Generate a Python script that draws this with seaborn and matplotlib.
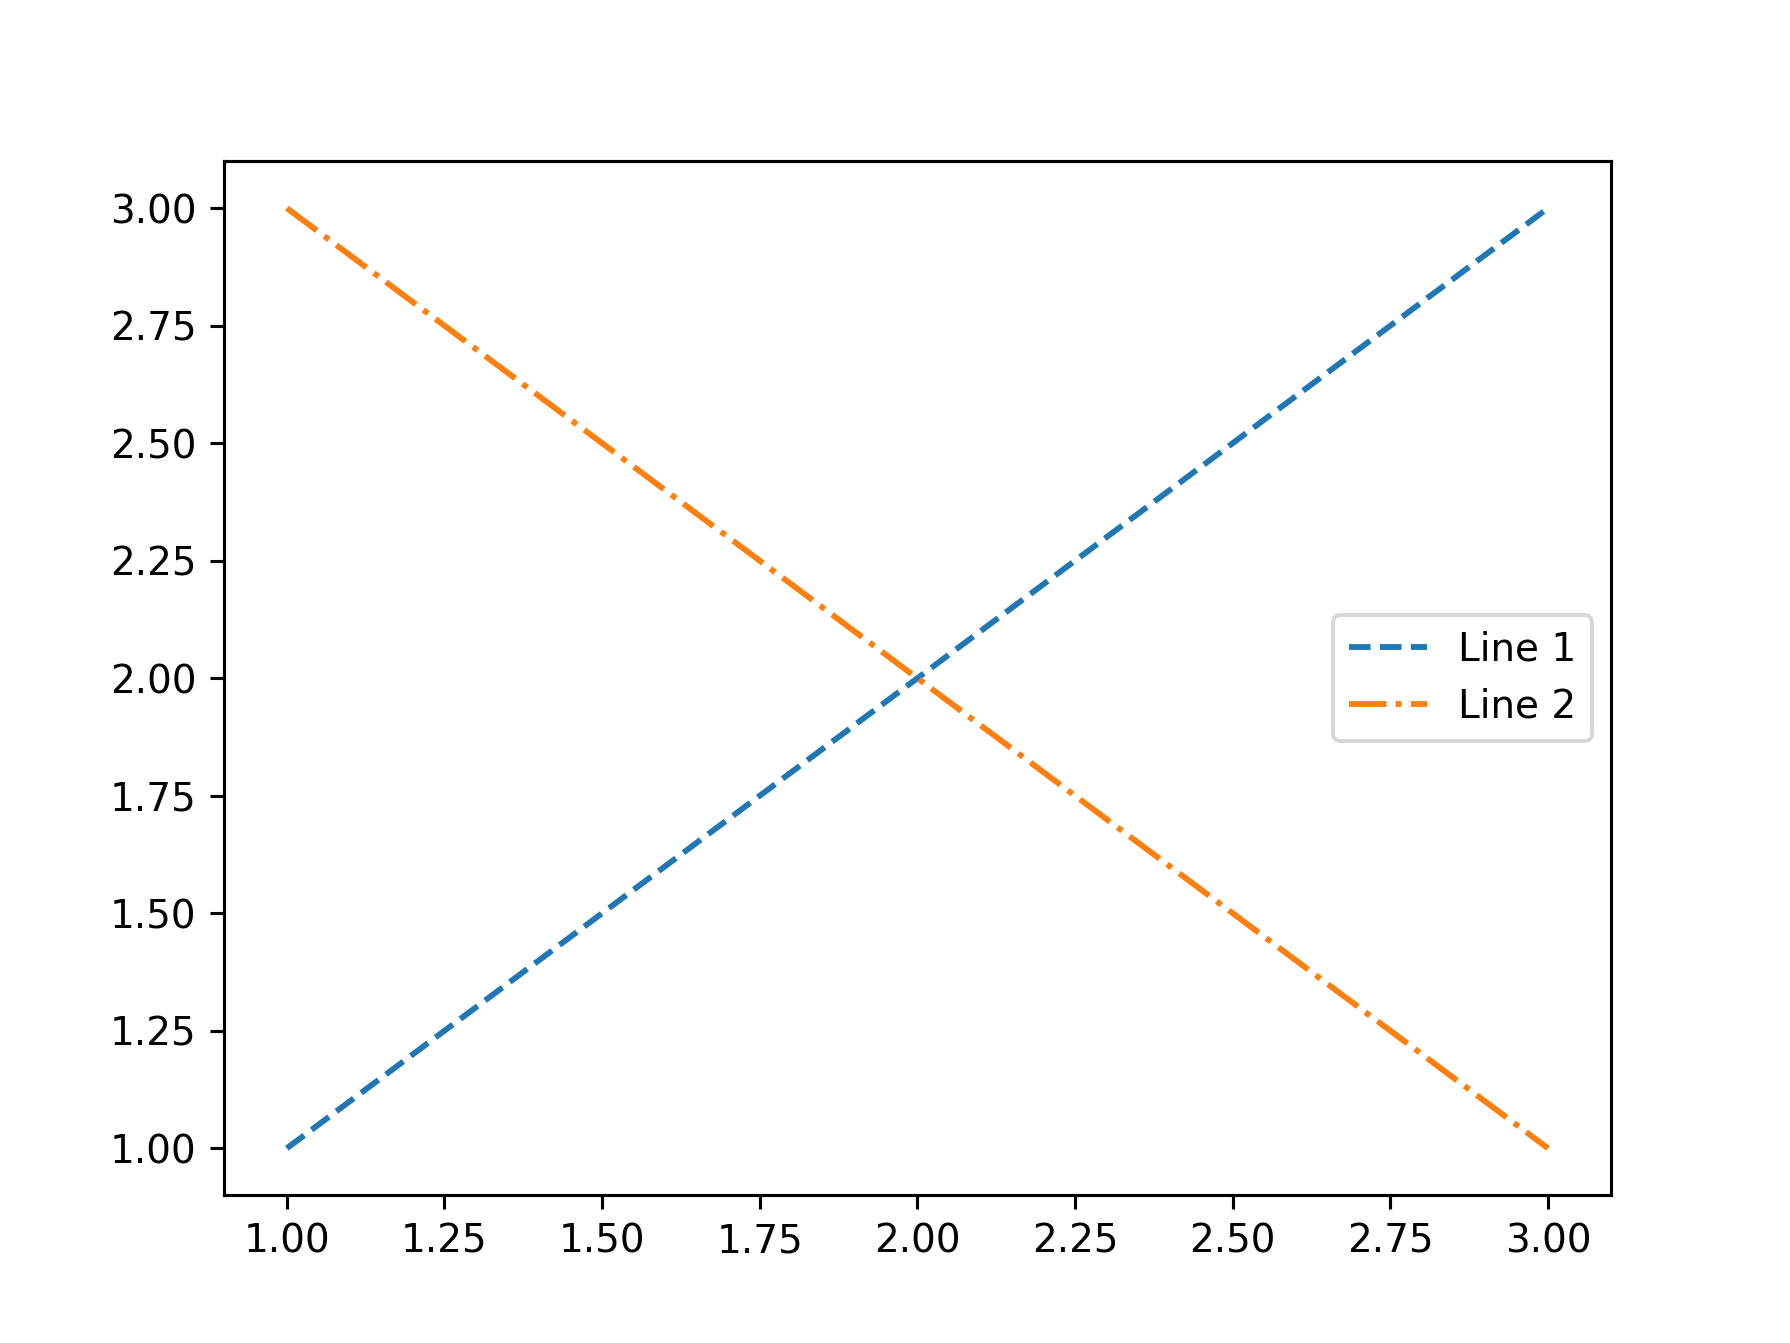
import matplotlib
matplotlib.use("Agg")
import matplotlib.pyplot as plt
import seaborn as sns

# data
x = [1, 2, 3]
line1 = [1, 2, 3]
line2 = [3, 2, 1]

fig, ax = plt.subplots(figsize=(1790 / 280, 1343 / 280), dpi=280)

sns.lineplot(x=x, y=line1, ax=ax, label="Line 1", linestyle="--", color="#1f77b4")
sns.lineplot(x=x, y=line2, ax=ax, label="Line 2", linestyle="-.", color="#ff7f0e")

ax.legend(loc="center right")

fig.savefig("out.png", dpi=280)
